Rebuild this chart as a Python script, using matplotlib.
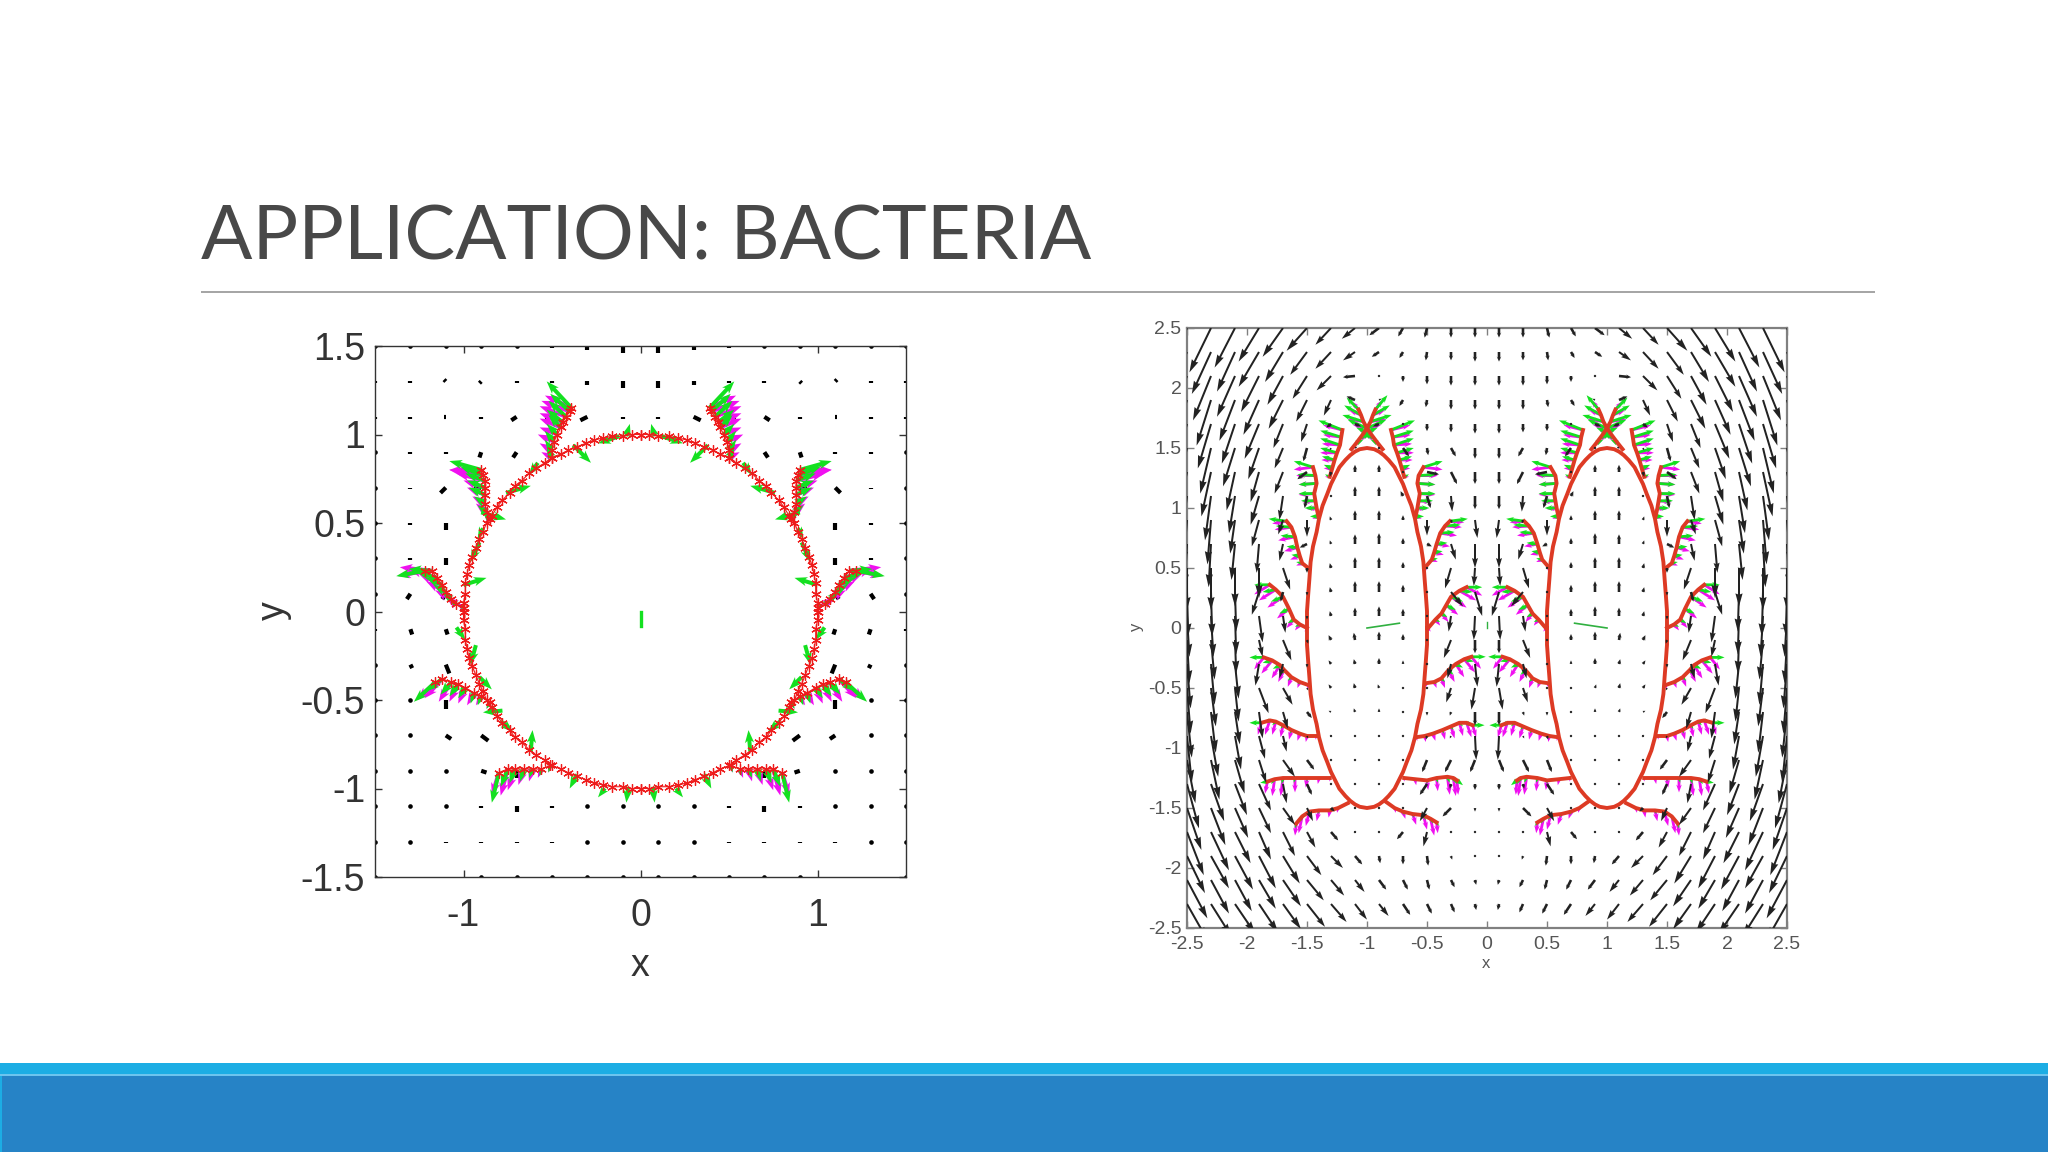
import numpy as np
import matplotlib
matplotlib.use("Agg")
import matplotlib.pyplot as plt
from matplotlib.collections import LineCollection
from matplotlib.patches import Rectangle

W, H = 2048, 1152
nan = float("nan")

# ---- left plot (circle) ----
circle_x = [1.00, 1.00, .99, .99, .98, .97, .95, .93, .91, .89, .87, .84, .81, .78, .74, .71,
            .67, .63, .59, .54, .50, .45, .41, .36, .31, .26, .21, .16, .10, .05, 0]
circle_y = [0, .05, .10, .16, .21, .26, .31, .36, .41, .45, .50, .54, .59, .63, .67, .71,
            .74, .78, .81, .84, .87, .89, .91, .93, .95, .97, .98, .99, .99, 1.00, 1.00]

# rows: x, y, green u, green v, magenta u, magenta v
circle_tuft_1 = [[.50, .87, .03, .06, .06, .03], [.50, .91, .04, .06, .07, .04], [.49, .96, .05, .06, .09, .04],
                 [.47, 1.00, .06, .06, .10, .04], [.45, 1.04, .07, .07, .12, .05], [.44, 1.07, .09, .07, .13, .05],
                 [.42, 1.10, .10, .09, .15, .06], [.40, 1.13, .11, .10, .16, .06], [.39, 1.15, .14, .15, .15, .07]]
circle_tuft_2 = [[.85, .52, .04, .04, .04, .05], [.87, .56, .05, .04, .06, .05], [.88, .61, .06, .04, .07, .04],
                 [.88, .66, .09, .04, .10, .04], [.88, .70, .10, .04, .12, .04], [.88, .74, .11, .04, .16, .04],
                 [.89, .77, .13, .05, .19, .03], [.90, .80, .18, .05, .18, .00]]
circle_tuft_3 = [[1.00, .02, .03, .02, .04, .03], [1.04, .04, .04, .03, .06, .04], [1.07, .07, .05, .04, .09, .05],
                 [1.10, .11, .07, .04, .11, .06], [1.12, .15, .09, .04, .13, .06], [1.15, .19, .11, .03, .16, .05],
                 [1.18, .23, .13, .01, .18, .02], [1.22, .23, .16, -.03, .15, -.03]]
circle_tuft_4 = [[.85, -.51, .02, -.04, .02, -.04], [.90, -.48, .02, -.05, .03, -.05], [.94, -.46, .02, -.06, .04, -.07],
                 [.99, -.43, .04, -.06, .04, -.09], [1.03, -.41, .05, -.07, .05, -.10], [1.07, -.40, .06, -.07, .07, -.11],
                 [1.12, -.38, .09, -.07, .10, -.11], [1.16, -.40, .12, -.11, .10, -.10]]
circle_tuft_5 = [[.51, -.87, .01, -.04, .01, -.04], [.56, -.89, .01, -.04, .02, -.05], [.61, -.89, .02, -.05, .02, -.07],
                 [.66, -.89, .02, -.07, .03, -.09], [.71, -.89, .03, -.08, .04, -.12], [.75, -.89, .04, -.10, .04, -.15],
                 [.80, -.91, .04, -.17, .04, -.13]]
circle_tufts = [circle_tuft_1, circle_tuft_2, circle_tuft_3, circle_tuft_4, circle_tuft_5]

# green arrows sitting on the circle: x, y, u, v
circle_bound = [[.08, .99, -.02, .07], [.12, .99, .12, -.04], [.38, .94, -.10, -.10], [.58, .84, .05, -.07],
                [.76, .67, -.14, .04], [.90, .56, -.14, -.04], [.89, .47, .03, -.06], [.91, .39, .05, -.11],
                [1.00, .15, -.13, .04], [1.04, -.09, -.05, -.07], [.93, -.19, .03, -.11], [.91, -.37, -.07, -.07],
                [.78, -.56, .11, -.01], [.79, -.62, -.07, -.06], [.62, -.79, -.01, .12], [.36, -.92, .04, -.08],
                [.20, -1.00, .04, -.05], [.07, -.99, .01, -.09]]

circle_grid_x = [-1.5, -1.3, -1.1, -.9, -.7, -.5, -.3, -.1]
circle_grid_y = [1.5, 1.3, 1.1, .9, .7, .5, .3, .1, -.1, -.3, -.5, -.7, -.9, -1.1, -1.3, -1.5]
circle_u = [[0, 0, 0, 0, 0, 0, 0, 0],
            [0, 0, -1, -1, 0, 0, 0, 0],
            [0, 0, -1, 0, -3, -4, -4, 0],
            [0, 0, 0, -1, -2, nan, nan, nan],
            [0, 0, -3, -4, nan, nan, nan, nan],
            [0, 0, 0, nan, nan, nan, nan, nan],
            [0, 0, 0, nan, nan, nan, nan, nan],
            [0, -2, -2, nan, nan, nan, nan, nan],
            [0, 1, 1, nan, nan, nan, nan, nan],
            [0, 1, 2, nan, nan, nan, nan, nan],
            [0, 0, 0, nan, nan, nan, nan, nan],
            [0, 0, 3, 4, nan, nan, nan, nan],
            [0, 0, 0, 3, 0, nan, nan, nan],
            [0, 0, 0, 0, 0, 0, 0, 0],
            [0, 0, 0, 0, 0, 0, 0, 0],
            [0, 0, 0, 0, 0, 0, 0, 0]]
circle_v = [[0, 0, 0, 0, 0, -1, -2, -4],
            [-1, -1, 1, -1, -1, -1, -2, -4],
            [-1, -1, 0, -1, -2, 0, -2, -1],
            [0, -1, -1, -3, -3, nan, nan, nan],
            [0, -1, -3, 0, nan, nan, nan, nan],
            [0, -1, -4, nan, nan, nan, nan, nan],
            [0, -1, -4, nan, nan, nan, nan, nan],
            [0, -3, -3, nan, nan, nan, nan, nan],
            [-1, -3, -3, nan, nan, nan, nan, nan],
            [0, -2, -5, nan, nan, nan, nan, nan],
            [0, 0, -5, nan, nan, nan, nan, nan],
            [0, 0, -2, -3, nan, nan, nan, nan],
            [0, 0, 0, -1, -4, nan, nan, nan],
            [0, 0, 0, -1, -3, -1, 0, 0],
            [0, 0, -1, -1, -1, -1, 0, 0],
            [0, -1, -1, 0, 0, 0, 0, 0]]

# ---- right plot (two ellipses) ----
ellipse_dx = [.50, .50, .49, .48, .47, .45, .42, .40, .37, .33, .30, .26, .23, .18, .14, .10, .06, 0]
ellipse_y = [0, .14, .28, .41, .55, .68, .80, .91, 1.02, 1.12, 1.20, 1.28, 1.34, 1.40, 1.44, 1.47, 1.49, 1.50]

tuft_a1 = [[-1.13, 1.49, .03, .02, .03, .01], [-1.09, 1.54, .06, .03, .05, .02], [-1.06, 1.58, .09, .04, .07, .02],
           [-1.03, 1.62, .12, .05, .09, .02], [-1.00, 1.665, .16, .07, .12, .03], [-.97, 1.72, .175, .055, .13, .02],
           [-.95, 1.775, .14, .08, .10, .04], [-.93, 1.82, .10, .12, .06, .08]]
tuft_a2 = [[-.87, 1.49, -.03, .02, -.03, .01], [-.91, 1.54, -.06, .03, -.05, .02], [-.94, 1.58, -.09, .04, -.07, .02],
           [-.97, 1.62, -.12, .05, -.09, .02], [-1.00, 1.665, -.16, .07, -.12, .03], [-1.03, 1.72, -.175, .055, -.13, .02],
           [-1.05, 1.775, -.14, .08, -.10, .04], [-1.07, 1.82, -.10, .10, -.06, .07]]
tuft_b1 = [[-1.31, 1.26, -.04, .02, -.04, .00], [-1.29, 1.33, -.07, .03, -.07, .00], [-1.27, 1.40, -.105, .03, -.11, .00],
           [-1.25, 1.46, -.14, .04, -.14, .00], [-1.225, 1.525, -.165, .055, -.15, .01], [-1.215, 1.59, -.175, .055, -.15, .02],
           [-1.205, 1.65, -.20, .08, -.16, .04]]
tuft_b2 = [[-.69, 1.26, .04, .02, .04, .00], [-.71, 1.33, .07, .03, .07, .00], [-.73, 1.40, .105, .03, .11, .00],
           [-.75, 1.46, .14, .04, .14, .00], [-.775, 1.525, .165, .055, .15, .01], [-.785, 1.59, .175, .055, .15, .02],
           [-.80, 1.65, .20, .08, .16, .04]]
tuft_c1 = [[-1.405, .93, -.07, .00, -.05, -.02], [-1.42, 1.00, -.10, .00, -.08, -.01], [-1.43, 1.06, -.12, .00, -.11, -.01],
           [-1.44, 1.12, -.13, .00, -.13, -.01], [-1.42, 1.205, -.15, -.01, -.15, -.01], [-1.43, 1.27, -.15, .01, -.16, .00],
           [-1.45, 1.34, -.16, .05, -.16, -.02]]
tuft_c2 = [[-.595, .93, .07, .00, .05, -.02], [-.58, 1.00, .10, .00, .08, -.01], [-.57, 1.06, .12, .00, .11, -.01],
           [-.56, 1.12, .13, .00, .13, -.01], [-.58, 1.205, .15, -.01, .15, -.01], [-.57, 1.27, .15, .01, .16, .00],
           [-.53, 1.34, .16, .05, .16, -.02]]
tuft_d1 = [[-1.49, .50, -.02, .01, -.02, -.02], [-1.54, .54, -.05, .01, -.05, -.02], [-1.56, .60, -.07, .01, -.08, -.03],
           [-1.58, .67, -.09, .01, -.11, -.03], [-1.60, .76, -.12, .01, -.14, -.03], [-1.63, .84, -.13, .01, -.14, -.02],
           [-1.67, .89, -.15, .02, -.12, -.02]]
tuft_d2 = [[-.52, .50, .02, .01, .02, -.02], [-.46, .57, .05, .01, .05, -.02], [-.44, .63, .07, .01, .08, -.02],
           [-.42, .70, .09, .01, .11, -.02], [-.39, .79, .12, .01, .14, -.02], [-.35, .85, .13, .01, .14, -.01],
           [-.31, .89, .15, .02, .12, -.01]]
tuft_e1 = [[-1.50, .00, -.02, -.01, -.02, -.03], [-1.56, .03, -.04, -.02, -.04, -.05], [-1.61, .07, -.05, -.03, -.06, -.07],
           [-1.65, .16, -.08, -.04, -.10, -.08], [-1.70, .26, -.10, -.04, -.13, -.09], [-1.76, .32, -.11, -.02, -.14, -.09],
           [-1.81, .36, -.13, .00, -.13, -.08]]
tuft_e2 = [[-.49, .00, .02, -.01, .02, -.03], [-.43, .07, .04, -.02, .04, -.05], [-.38, .12, .05, -.03, .06, -.07],
           [-.34, .19, .08, -.04, .10, -.08], [-.30, .26, .10, -.04, .13, -.09], [-.23, .31, .11, -.01, .14, -.08],
           [-.17, .34, .13, .00, .13, -.07]]
tuft_f1 = [[-1.49, -.475, -.01, -.01, -.01, -.03], [-1.56, -.45, -.02, -.02, -.02, -.05], [-1.63, -.41, -.03, -.03, -.03, -.08],
           [-1.69, -.35, -.04, -.04, -.05, -.10], [-1.725, -.31, -.06, -.03, -.07, -.11], [-1.79, -.27, -.08, -.02, -.09, -.11],
           [-1.86, -.245, -.12, .00, -.08, -.10]]
tuft_f2 = [[-.51, -.46, .01, -.01, .01, -.03], [-.44, -.45, .02, -.02, .02, -.05], [-.38, -.42, .03, -.03, .03, -.08],
           [-.32, -.35, .04, -.04, .05, -.10], [-.26, -.30, .06, -.03, .07, -.11], [-.19, -.26, .08, -.02, .09, -.11],
           [-.13, -.24, .12, .00, .08, -.10]]
tuft_g1 = [[-1.42, -.90, 0, -.01, -.01, -.03], [-1.50, -.90, -.01, -.02, -.01, -.05], [-1.56, -.88, -.01, -.02, -.02, -.06],
           [-1.63, -.85, -.01, -.03, -.02, -.08], [-1.70, -.81, -.02, -.03, -.02, -.10], [-1.76, -.78, -.03, -.03, -.03, -.11],
           [-1.81, -.77, -.05, -.02, -.04, -.12], [-1.88, -.79, -.10, 0, -.03, -.10]]
tuft_g2 = [[-.59, -.91, 0, -.01, .01, -.03], [-.52, -.90, .01, -.02, .01, -.05], [-.45, -.88, .01, -.02, .02, -.06],
           [-.37, -.85, .01, -.03, .02, -.08], [-.30, -.82, .02, -.03, .03, -.10], [-.23, -.79, .03, -.03, .03, -.11],
           [-.17, -.79, .05, -.03, .04, -.12], [-.12, -.81, .10, 0, .03, -.10]]
tuft_h1 = [[-1.31, -1.25, 0, -.01, 0, -.03], [-1.40, -1.25, 0, -.02, -.01, -.05], [-1.50, -1.25, 0, -.03, -.01, -.08],
           [-1.60, -1.25, -.01, -.04, 0, -.12], [-1.70, -1.25, -.01, -.05, -.02, -.15], [-1.77, -1.26, -.03, -.04, -.02, -.14],
           [-1.83, -1.28, -.06, -.01, -.02, -.10]]
tuft_h2 = [[-.69, -1.25, 0, -.01, 0, -.03], [-.60, -1.26, 0, -.02, .01, -.05], [-.50, -1.27, 0, -.03, .01, -.08],
           [-.42, -1.25, .01, -.04, .01, -.11], [-.33, -1.24, .02, -.05, .02, -.15], [-.28, -1.25, .03, -.05, .02, -.15],
           [-.25, -1.27, .05, -.04, .01, -.12]]
tuft_i1 = [[-1.16, -1.46, 0, -.01, -.01, -.02], [-1.24, -1.50, 0, -.02, -.01, -.04], [-1.31, -1.52, -.01, -.02, -.01, -.06],
           [-1.40, -1.52, -.01, -.03, -.02, -.09], [-1.48, -1.53, -.01, -.04, -.03, -.12], [-1.54, -1.57, -.01, -.04, -.03, -.14],
           [-1.59, -1.63, -.01, -.04, -.01, -.10]]
tuft_i2 = [[-.84, -1.45, 0, -.01, .01, -.02], [-.77, -1.50, 0, -.02, .01, -.04], [-.70, -1.53, .01, -.03, .02, -.06],
           [-.62, -1.55, .01, -.03, .03, -.09], [-.53, -1.56, .02, -.04, .03, -.12], [-.47, -1.59, .02, -.04, .03, -.14],
           [-.42, -1.62, .02, -.03, .01, -.09]]
ellipse_tufts = [tuft_a1, tuft_a2, tuft_b1, tuft_b2, tuft_c1, tuft_c2, tuft_d1, tuft_d2, tuft_e1, tuft_e2,
                 tuft_f1, tuft_f2, tuft_g1, tuft_g2, tuft_h1, tuft_h2, tuft_i1, tuft_i2]

field_x = [-2.5, -2.3, -2.1, -1.9, -1.7, -1.5, -1.3, -1.1, -.9, -.7, -.5, -.3, -.1]
field_y = [2.5, 2.3, 2.1, 1.9, 1.7, 1.5, 1.3, 1.1, .9, .7, .5, .3, .1, -.1, -.3, -.5, -.7, -.9, -1.1, -1.3, -1.5, -1.7, -1.9, -2.1, -2.3]
field_u = [[-18, -18, -17, -17, -17, -17, -13, -11, -8, -4, -2, 0, 0],
           [-16, -16, -15, -17, -15, -14, -13, -10, -6, -3, -1, 0, 0],
           [-15, -15, -15, -15, -13, -12, -12, -10, 0, 0, 0, 0, 0],
           [-12, -12, -13, -13, -12, -9, -6, -7, 2, -3, -1, 0, 0],
           [-11, -11, -11, -12, -8, -5, -4, 5, -5, 0, 0, 0, 0],
           [-9, -9, -10, -9, -7, -3, -1, 2, 0, 5, 1, 4, 0],
           [-8, -8, -7, -7, -7, -8, -1, 0, 0, 0, 10, 5, 0],
           [-5, -5, -5, -7, -3, -2, 0, 0, 0, -2, 3, 1, 0],
           [-3, -3, -4, -6, -4, 0, -1, 0, 0, 0, 0, 1, 2],
           [-2, -2, -3, -2, -3, -6, -1, 0, 0, 0, 4, 4, 0],
           [0, 0, 0, 0, 6, 0, -1, 0, 0, 0, 0, -5, -1],
           [1, 1, 1, -6, -2, 0, -1, 0, 0, 0, 0, 10, 6],
           [2, 2, 1, 3, 2, 0, -1, 0, 0, 0, 0, -2, -1],
           [2, 3, 1, 3, 7, 1, -2, -1, 0, 0, 0, -6, 0],
           [3, 3, 3, -3, -3, 0, -2, -1, 0, 0, 0, -3, 2],
           [3, 4, 3, 8, 8, 1, -2, -1, -1, 0, 0, -4, -3],
           [4, 4, 4, 3, 4, 4, -2, -1, 0, 0, 0, -1, 0],
           [4, 6, 5, 5, 3, 1, -1, 0, 0, 0, -1, -1, 1],
           [7, 7, 8, 6, 10, 6, 0, 0, 0, 0, -4, -5, -4],
           [10, 11, 10, 10, 3, 4, 1, 0, 0, 1, -6, -1, 0],
           [12, 12, 11, 10, 10, 5, 3, 0, 0, 0, -6, -7, 0],
           [14, 15, 13, 10, 10, 7, 6, 1, 0, -5, -3, 0, 0],
           [15, 15, 15, 14, 14, 12, 10, 6, 1, 0, 1, 1, 0],
           [17, 15, 14, 14, 15, 14, 11, 8, 6, 4, 2, 3, 1],
           [17, 17, 17, 16, 15, 15, 13, 10, 8, 6, 4, 3, 1]]
field_v = [[-38, -37, -33, -28, -24, -19, -14, -9, -6, -7, -8, -8, -8],
           [-35, -35, -33, -29, -25, -19, -14, -7, -4, -5, -7, -7, -8],
           [-37, -37, -34, -30, -24, -19, -12, -1, -1, -5, -7, -8, -8],
           [-38, -38, -34, -29, -24, -18, -13, 3, 1, -5, -6, -8, -8],
           [-37, -37, -33, -29, -20, -15, -3, -2, -2, -1, -6, -7, -8],
           [-38, -38, -32, -26, -17, -11, -2, 1, 0, -7, -6, -7, -9],
           [-37, -37, -32, -25, -18, -6, -4, 6, 6, -1, -2, -10, -10],
           [-37, -37, -31, -24, -20, -10, -2, 8, 8, 4, -10, -13, -11],
           [-37, -37, -28, -22, -12, -14, 3, 8, 8, 4, -13, -3, -15],
           [-36, -36, -30, -24, -14, -3, 3, 8, 9, 5, -2, -13, -20],
           [-35, -35, -32, -25, -18, -4, 4, 9, 9, 5, -2, -17, -15],
           [-37, -37, -33, -19, -8, -3, 4, 9, 9, 6, -2, -12, -20],
           [-34, -34, -32, -22, -14, -3, 4, 7, 8, 6, -2, -13, -20],
           [-36, -33, -28, -14, -17, -3, 4, 6, 7, 5, -2, -15, -11],
           [-37, -34, -29, -18, -12, -3, 3, 4, 5, 3, -2, -12, -19],
           [-38, -32, -28, -21, -14, -2, 3, 4, 3, 2, -2, -12, -18],
           [-38, -34, -27, -22, -14, -5, 1, 3, 3, 1, -3, -3, -11],
           [-39, -34, -28, -19, -13, -2, -1, 2, 2, 0, -3, -2, -20],
           [-36, -33, -28, -19, -14, -8, 0, 1, 0, 0, -10, -10, -10],
           [-37, -31, -26, -22, -16, -9, 0, 0, 0, -1, -9, -4, -5],
           [-35, -31, -25, -21, -14, -11, -3, 0, 0, 0, -11, -7, -3],
           [-36, -32, -26, -23, -20, -13, -7, -1, 0, -6, -12, -2, 0],
           [-31, -27, -28, -27, -23, -16, -10, -7, -6, -7, -8, -3, -1],
           [-32, -28, -26, -24, -22, -17, -13, -10, -8, -8, -8, -6, -4],
           [-30, -27, -25, -24, -21, -19, -15, -13, -10, -9, -8, -7, -5]]

left_ticks_x = [-1, 0, 1]
left_ticks_y = [-1.5, -1, -.5, 0, .5, 1, 1.5]
right_ticks = [-2.5, -2, -1.5, -1, -.5, 0, .5, 1, 1.5, 2, 2.5]

RED = "#ee1c1c"
BODY_RED = "#dd3a24"
GREEN = "#14e020"
MAGENTA = "#f010f0"


def axes_px(x0, y0, x1, y1):
    return fig.add_axes([x0 / W, 1 - y1 / H, (x1 - x0) / W, (y1 - y0) / H])


def text_px(x, y, s, **kw):
    fig.text(x / W, 1 - y / H, s, ha="center", va="center", **kw)


def band_px(x0, y0, x1, y1, color):
    fig.add_artist(Rectangle((x0 / W, 1 - y1 / H), (x1 - x0) / W, (y1 - y0) / H, color=color, lw=0,
                             transform=fig.transFigure))


def style_axes(ax, xt, yt, lim, size, color, edge, lw, padx, pady):
    ax.set_xlim(-lim, lim)
    ax.set_ylim(-lim, lim)
    ax.set_xticks(xt, [f"{v:g}" for v in xt])
    ax.set_yticks(yt, [f"{v:g}" for v in yt])
    ax.tick_params(direction="in", top=True, right=True, length=5, width=1, labelsize=size,
                   labelcolor=color, color=edge)
    ax.tick_params(axis="x", pad=padx)
    ax.tick_params(axis="y", pad=pady)
    for s in ax.spines.values():
        s.set_color(edge)
        s.set_linewidth(lw)


def arrows(ax, x, y, u, v, color, z, w, hw, hl, minlength=1.0):
    ax.quiver(x, y, u, v, angles="xy", scale_units="xy", scale=1, units="dots", width=w, headwidth=hw,
              headlength=hl, headaxislength=hl - .5, minlength=minlength, color=color, zorder=z)


def draw_tuft(ax, rows, sign, w, hw, hl, color, lw, ms):
    r = np.array(rows)
    arrows(ax, sign * r[:, 0], r[:, 1], sign * r[:, 4], r[:, 5], MAGENTA, 3, w, hw, hl)
    arrows(ax, sign * r[:, 0], r[:, 1], sign * r[:, 2], r[:, 3], GREEN, 4, w, hw, hl)
    ax.plot(sign * r[:, 0], r[:, 1], color=color, lw=lw, marker=(6, 2, 0), ms=ms, mew=.9, zorder=5)


plt.rcParams["font.family"] = ["Liberation Sans", "DejaVu Sans"]
plt.rcParams["axes.unicode_minus"] = False

fig = plt.figure(figsize=(W / 100, H / 100), dpi=100, facecolor="white")

# slide furniture
band_px(0, 1063, W, H, "#1cade4")
band_px(0, 1074, W, 1076, "#6cc4ee")
band_px(2, 1076, W, H, "#2683c6")
band_px(201, 291, 1875, 293, "#a6a6a6")
fig.text(201 / W, 1 - 260 / H, "APPLICATION: BACTERIA", family=["Lato", "DejaVu Sans"],
         fontsize=54.7, color="#484848", ha="left", va="baseline")

# left plot
ax1 = axes_px(375, 346, 906, 877)
style_axes(ax1, left_ticks_x, left_ticks_y, 1.5, 27, "#333333", "#333333", 1, 15, 7)
gx, gy = np.meshgrid(circle_grid_x, circle_grid_y)
cu = np.array(circle_u) / 100
cv = np.array(circle_v) / 100
for sign in (1, -1):
    # the small field arrows read as thick ticks and dots at this scale
    ok = np.isfinite(cu)
    still = ok & (cu == 0) & (cv == 0)
    moved = ok & ~still
    segs = [[(sign * x, y), (sign * (x + u), y + v)] for x, y, u, v in zip(gx[moved], gy[moved], cu[moved], cv[moved])]
    ax1.add_collection(LineCollection(segs, colors="black", linewidths=3.0, capstyle="butt", zorder=2))
    ax1.scatter(sign * gx[still], gy[still], s=11, color="black", lw=0, zorder=2)
cx = np.array(circle_x)
cy = np.array(circle_y)
all_x = np.concatenate([cx, -cx[::-1], -cx, cx[::-1]])
all_y = np.concatenate([cy, cy[::-1], -cy, -cy[::-1]])
ax1.plot(all_x, all_y, color=RED, lw=.8, marker=(6, 2, 0), ms=7.5, mew=.9, zorder=5)
b = np.array(circle_bound)
for sign in (1, -1):
    arrows(ax1, sign * b[:, 0], b[:, 1], sign * b[:, 2], b[:, 3], GREEN, 4, 4.0, 2.3, 3.2)
    for rows in circle_tufts:
        draw_tuft(ax1, rows, sign, 4.0, 2.3, 3.2, RED, .8, 7.5)
ax1.plot([0, 0], [.0, -.08], color=GREEN, lw=2.4, zorder=4)
text_px(640, 966, "x", fontsize=27, color="#333333")
text_px(274, 611, "y", fontsize=27, color="#333333", rotation=90)

# right plot
ax2 = axes_px(1187, 328, 1787, 928)
style_axes(ax2, right_ticks, right_ticks, 2.5, 14, "#555555", "#808080", 1.6, 6, 4)
fx, fy = np.meshgrid(field_x, field_y)
fu = np.array(field_u) / 100
fv = np.array(field_v) / 100
flen = np.hypot(fu, fv)
for sign in (1, -1):
    # head size follows arrow length, as in the original quiver
    s = flen < .12
    arrows(ax2, sign * fx[s], fy[s], sign * fu[s], fv[s], "#222222", 6, 2.6, 1.8, 2.0)
    s = (flen >= .12) & (flen < .25)
    arrows(ax2, sign * fx[s], fy[s], sign * fu[s], fv[s], "#222222", 6, 2.0, 3.0, 5)
    s = flen >= .25
    arrows(ax2, sign * fx[s], fy[s], sign * fu[s], fv[s], "#222222", 6, 2.0, 3.6, 6.5)
ex = np.array(ellipse_dx)
ey = np.array(ellipse_y)
body_x = np.concatenate([ex, -ex[::-1], -ex, ex[::-1]])
body_y = np.concatenate([ey, ey[::-1], -ey, -ey[::-1]])
for sign in (1, -1):
    ax2.plot(sign * (-1 + body_x), body_y, color=BODY_RED, lw=2.8, zorder=5)
    for rows in ellipse_tufts:
        draw_tuft(ax2, rows, sign, 2.8, 2.0, 2.8, BODY_RED, 2.8, 0)
    ax2.plot([sign * -1, sign * -.73], [0, .04], color="#30b040", lw=1.2, zorder=4)
ax2.plot([0, 0], [0, .05], color="#30b040", lw=1, zorder=4)
text_px(1486, 963, "x", fontsize=12, color="#555555")
text_px(1136, 627, "y", fontsize=12, color="#555555", rotation=90)

fig.savefig("out.png", dpi=100, facecolor="white")
